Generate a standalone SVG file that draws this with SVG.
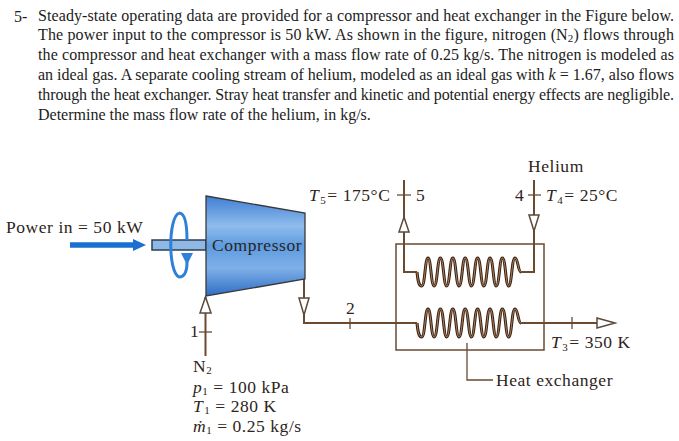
<svg xmlns="http://www.w3.org/2000/svg" width="679" height="441" viewBox="0 0 679 441">
<style>
text{font-family:"Liberation Serif","Times New Roman",serif;fill:#2e2420}
.b{font-size:16px;fill:#1c1c1c}
.l{font-size:17.5px;letter-spacing:.55px}
.i{font-style:italic}
.s{font-size:11px}
.p{fill:none;stroke:#6b4a30;stroke-width:2}
.t{fill:none;stroke:#6b4a30;stroke-width:1.3}
.a{fill:#fff;stroke:#5a4a3a;stroke-width:1.5}
.c{fill:none;stroke:#3a2010;stroke-width:3}
.c2{fill:none;stroke:#c79a78;stroke-width:.8}
</style>
<defs>
<linearGradient id="g" x1="0" y1="0" x2="0" y2="1">
<stop offset="0" stop-color="#3f7fd4"/><stop offset=".3" stop-color="#8fbcec"/><stop offset=".5" stop-color="#5d9be0"/><stop offset=".72" stop-color="#7fb0e8"/><stop offset="1" stop-color="#2f6ec6"/>
</linearGradient>
<path id="coil" d="M417 0C418 10 419 14 421.8 14C425 14 425 -14 428 -14C431 -14 431 14 434.2 14C437.4 14 437.4 -14 440.4 -14C443.6 -14 443.6 14 446.6 14C449.8 14 449.8 -14 452.8 -14C456 -14 456 14 459 14C462.2 14 462.2 -14 465.2 -14C468.4 -14 468.4 14 471.4 14C474.6 14 474.6 -14 477.6 -14C480.8 -14 480.8 14 483.8 14C487 14 487 -14 490 -14C493.2 -14 493.2 14 496.2 14C499.4 14 499.4 -14 502.4 -14C505.6 -14 505.6 14 508.6 14C511.8 14 511.8 -14 515 -14C518 -14 518 0 521 0"/>
</defs>
<rect width="679" height="441" fill="#fff"/>
<g id="problem">
<text class="b" x="14" y="22">5-</text>
<text class="b" x="38" y="21" textLength="636">Steady-state operating data are provided for a compressor and heat exchanger in the Figure below.</text>
<text class="b" x="38" y="40" textLength="636">The power input to the compressor is 50 kW. As shown in the figure, nitrogen (N<tspan font-size="11" dy="2">2</tspan><tspan dy="-2">) flows through</tspan></text>
<text class="b" x="38" y="60" textLength="636">the compressor and heat exchanger with a mass flow rate of 0.25 kg/s. The nitrogen is modeled as</text>
<text class="b" x="38" y="80" textLength="636">an ideal gas. A separate cooling stream of helium, modeled as an ideal gas with <tspan class="i">k</tspan> = 1.67, also flows</text>
<text class="b" x="38" y="100" textLength="636">through the heat exchanger. Stray heat transfer and kinetic and potential energy effects are negligible.</text>
<text class="b" x="38" y="120">Determine the mass flow rate of the helium, in kg/s.</text>
</g>
<g id="connectors">
<path class="p" d="M205.500 356V297"/>
<path class="t" d="M199 332H212"/>
<path class="p" d="M304 279V323H417"/>
<path class="t" d="M350 318V329"/>
<path class="p" d="M521 323H600"/>
<path class="t" d="M572 317V329"/>
<path class="p" d="M404 180V272H417"/>
<path class="t" d="M397 195H411"/>
<path class="p" d="M534 180V272H521"/>
<path class="t" d="M528 195H541"/>
<path class="t" d="M467 343V380H493"/>
<path class="a" d="M205.500 297L211 313H200Z"/>
<path class="a" d="M304 315L299 298H309Z"/>
<path class="a" d="M404 217L409 232H399Z"/>
<path class="a" d="M534 231L529 215H539Z"/>
<path class="a" d="M615 323L597 318V328Z"/>
</g>
<g id="power">
<path d="M70 245H134" stroke="#1a6fd0" stroke-width="5.500" fill="none"/>
<path d="M133 239L146 245L133 251Z" fill="#1a6fd0"/>
<text class="l" x="6" y="233">Power in = 50 kW</text>
</g>
<g id="compressor">
<rect x="152" y="240" width="54" height="10" fill="#8fb8e6" stroke="#2c3e50" stroke-width="1.500"/>
<path d="M179 213C168 218 168 272 179 277C185 277 187 270 187 262" fill="none" stroke="#2f80d8" stroke-width="3"/>
<path d="M179 213C185 213 187 225 187 240" fill="none" stroke="#2f80d8" stroke-width="3"/>
<path d="M181 253H193L187 265Z" fill="#2f80d8"/>
<path d="M206 196L305 213V279L206 296Z" fill="url(#g)" stroke="#3a3a3a" stroke-width="1.300"/>
<text class="l" x="212" y="251">Compressor</text>
</g>
<g id="heat-exchanger">
<rect x="396" y="244" width="148" height="106" fill="none" stroke="#6b4a30" stroke-width="1.500"/>
<use href="#coil" y="272" class="c"/>
<use href="#coil" y="272" class="c2"/>
<use href="#coil" y="323" class="c"/>
<use href="#coil" y="323" class="c2"/>
<text class="l" x="496" y="386">Heat exchanger</text>
</g>
<g id="labels">
<text class="l" x="190" y="337">1</text>
<text class="l" x="193" y="372">N<tspan class="s" dy="2">2</tspan></text>
<text class="l" x="193" y="393"><tspan class="i">p</tspan><tspan class="s" dy="2">1</tspan><tspan dy="-2"> = 100 kPa</tspan></text>
<text class="l" x="193" y="412"><tspan class="i">T</tspan><tspan class="s" dx="1" dy="2">1</tspan><tspan dy="-2"> = 280 K</tspan></text>
<text class="l" x="193" y="432"><tspan class="i">ṁ</tspan><tspan class="s" dy="2">1</tspan><tspan dy="-2"> = 0.25 kg/s</tspan></text>
<text class="l" x="309" y="201"><tspan class="i">T</tspan><tspan class="s" dx="1" dy="3">5</tspan><tspan dx="1" dy="-3">= 175°C</tspan></text>
<text class="l" x="416" y="201">5</text>
<text class="l" x="515" y="201">4</text>
<text class="l" x="546" y="201"><tspan class="i">T</tspan><tspan class="s" dx="1" dy="3">4</tspan><tspan dx="1" dy="-3">= 25°C</tspan></text>
<text class="l" x="528" y="172">Helium</text>
<text class="l" x="346" y="314">2</text>
<text class="l" x="551" y="348"><tspan class="i">T</tspan><tspan class="s" dx="1" dy="3">3</tspan><tspan dx="1" dy="-3">= 350 K</tspan></text>
</g>
</svg>
